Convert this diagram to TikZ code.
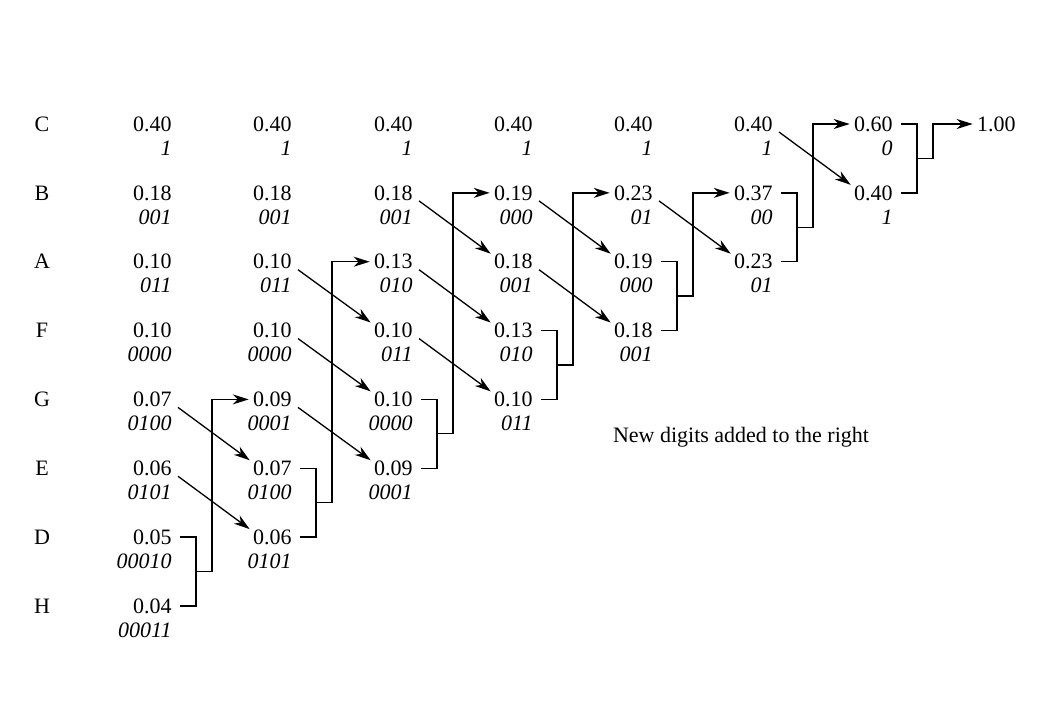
\documentclass[tikz,border=0pt]{standalone}
\usepackage{fontspec}
\setmainfont{Liberation Serif}
\usetikzlibrary{calc,arrows.meta}
\begin{document}
\begin{tikzpicture}[x=0.5pt,y=-0.5pt,
  every node/.style={font=\fontsize{11}{13}\selectfont},
  num/.style={anchor=east,inner sep=0pt},
  code/.style={anchor=east,inner sep=0pt,font=\fontsize{11}{13}\selectfont\itshape},
  lbl/.style={inner sep=0pt},
  ln/.style={line width=0.7pt},
  arr/.style={line width=0.65pt,-{Stealth[length=8pt,width=5pt,inset=2.5pt]}}]
\useasboundingbox (0,0) rectangle (1040,720);
% row labels
\foreach \l [count=\i from 0] in {C,B,A,F,G,E,D,H}
  \node[lbl] (L\i) at (42,{124+68.85*\i}) {\l};
% columns: \col/\x/{list of value:code}
\foreach \c/\x/\lst in {
  1/172/{0.40/1,0.18/001,0.10/011,0.10/0000,0.07/0100,0.06/0101,0.05/00010,0.04/00011},
  2/292/{0.40/1,0.18/001,0.10/011,0.10/0000,0.09/0001,0.07/0100,0.06/0101},
  3/413/{0.40/1,0.18/001,0.13/010,0.10/011,0.10/0000,0.09/0001},
  4/533/{0.40/1,0.19/000,0.18/001,0.13/010,0.10/011},
  5/653/{0.40/1,0.23/01,0.19/000,0.18/001},
  6/773/{0.40/1,0.37/00,0.23/01},
  7/893/{0.60/0,0.40/1}}
{
  \foreach \v/\k [count=\r from 0] in \lst {
    \node[num] (n\c-\r) at (\x,{124+68.85*\r}) {\v};
    \node[code] (c\c-\r) at (\x,{148+68.85*\r}) {\k};
  }
}
\node[num] (n8-0) at (1016,124) {1.00};
% diagonal moves
\foreach \a/\b in {1-4/2-5,1-5/2-6,2-2/3-3,2-3/3-4,2-4/3-5,3-1/4-2,3-2/4-3,3-3/4-4,4-1/5-2,4-2/5-3,5-1/6-2,6-0/7-1}
  \draw[arr] ($(n\a.east)+(6,8)$) -- ($(n\b.west)+(-3,-8)$);
% merges
\foreach \t/\u/\g in {1-6/1-7/2-4,2-5/2-6/3-2,3-4/3-5/4-1,4-3/4-4/5-1,5-2/5-3/6-1,6-1/6-2/7-0,7-0/7-1/8-0}{
  \draw[ln] ($(n\t.east)+(8,0)$) -- ($(n\t.east)+(24,0)$) -- ($(n\u.east)+(24,0)$) -- ($(n\u.east)+(8,0)$);
  \draw[arr] ($(n\t.east)!0.5!(n\u.east)+(24,0)$) -- ++(16,0) |- ($(n\g.west)+(-4,0)$);
}
\node[lbl] (note) at (741,437) {New digits added to the right};
\end{tikzpicture}
\end{document}
